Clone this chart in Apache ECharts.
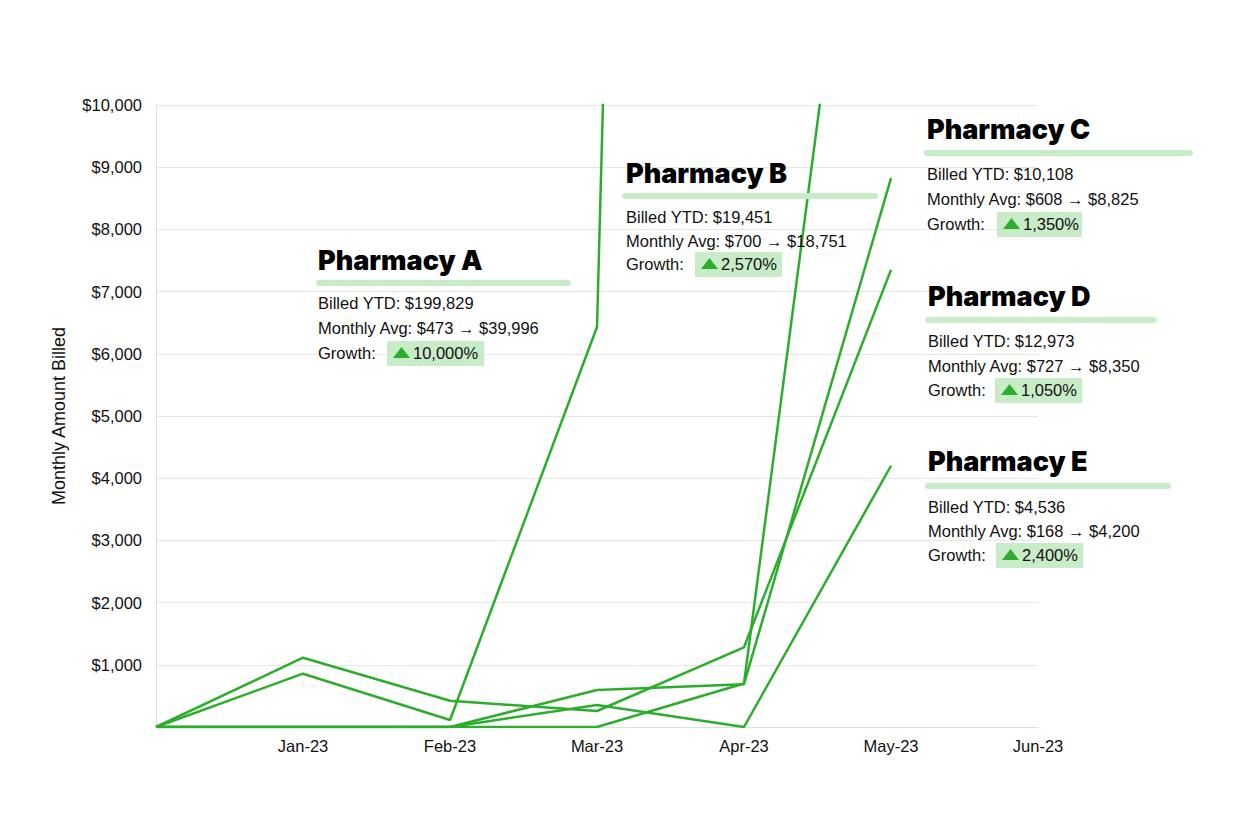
<!DOCTYPE html>
<html>
<head>
<meta charset="utf-8">
<script src="https://cdn.jsdelivr.net/npm/echarts@6/dist/echarts.min.js"></script>
<style>
html,body{margin:0;padding:0;background:#fff;}
#chart{width:1238px;height:824px;}
</style>
</head>
<body>
<div id="chart"></div>
<script>
// ---- data ----
var months = ['Dec-22', 'Jan-23', 'Feb-23', 'Mar-23', 'Apr-23', 'May-23', 'Jun-23'];
var pharmacyA = [0, 857, 112, 6430, 95000, 97430];
var pharmacyB = [0, 0, 0, 0, 700, 18751];
var pharmacyC = [0, 0, 0, 595, 688, 8825];
var pharmacyD = [0, 1114, 423, 257, 1281, 7350];
var pharmacyE = [0, 0, 0, 354, 0, 4200];
var names = ['Pharmacy A', 'Pharmacy B', 'Pharmacy C', 'Pharmacy D', 'Pharmacy E'];
var billedYTD = ['$199,829', '$19,451', '$10,108', '$12,973', '$4,536'];
var avgFrom = ['$473', '$700', '$608', '$727', '$168'];
var avgTo = ['$39,996', '$18,751', '$8,825', '$8,350', '$4,200'];
var growth = ['10,000%', '2,570%', '1,350%', '1,050%', '2,400%'];

// ---- layout of annotation blocks (pixels) ----
var layout = [
  {tx: 318, ty: 264, ul: [316, 571, 283], ly: [303, 328, 353], bx: [387, 484]},
  {tx: 626, ty: 177, ul: [622, 878, 196], ly: [217, 241, 264], bx: [695, 782]},
  {tx: 927, ty: 133, ul: [924, 1193, 153], ly: [174, 199, 224], bx: [997, 1082]},
  {tx: 928, ty: 300, ul: [925, 1157, 320], ly: [341, 366, 390], bx: [995, 1082]},
  {tx: 928, ty: 465, ul: [925, 1171, 486], ly: [507, 531, 555], bx: [996, 1083]}
];

var green = '#2cae2c';
var bodyFont = '"Liberation Sans", Arial, Helvetica, sans-serif';
var graphics = [];
layout.forEach(function (L, i) {
  graphics.push({
    type: 'text', left: L.tx, top: L.ty - 17, z: 10,
    style: {text: names[i], font: '900 27px Inter, "DejaVu Sans", sans-serif', fill: '#000'}
  });
  graphics.push({
    type: 'line', z: 9,
    shape: {x1: L.ul[0] + 3, y1: L.ul[2], x2: L.ul[1] - 3, y2: L.ul[2]},
    style: {stroke: '#c8ebc8', lineWidth: 6, lineCap: 'round'}
  });
  var lines = ['Billed YTD: ' + billedYTD[i], 'Monthly Avg: ' + avgFrom[i] + ' \u2192 ' + avgTo[i], 'Growth:'];
  lines.forEach(function (t, k) {
    graphics.push({
      type: 'text', left: L.tx, top: L.ly[k] - 9, z: 10,
      style: {text: t, font: '16.5px ' + bodyFont, fill: '#111'}
    });
  });
  var by = L.ly[2];
  graphics.push({
    type: 'rect', z: 9,
    shape: {x: L.bx[0], y: by - 12, width: L.bx[1] - L.bx[0], height: 25},
    style: {fill: '#c8ebc8'}
  });
  graphics.push({
    type: 'polygon', z: 10,
    shape: {points: [[L.bx[0] + 6, by + 5], [L.bx[0] + 23, by + 5], [L.bx[0] + 14.5, by - 6]]},
    style: {fill: green}
  });
  graphics.push({
    type: 'text', left: L.bx[0] + 26, top: by - 9, z: 10,
    style: {text: growth[i], font: '16.5px ' + bodyFont, fill: '#111'}
  });
});

function mkSeries(name, data) {
  return {
    name: name, type: 'line', data: data, symbol: 'none', clip: true,
    lineStyle: {color: green, width: 2.5}, itemStyle: {color: green}, z: 5
  };
}

var chart = echarts.init(document.getElementById('chart'), null, {renderer: 'svg'});
chart.setOption({
  backgroundColor: '#fff',
  animation: false,
  grid: {left: 156, right: 200, top: 105, bottom: 97},
  xAxis: {
    type: 'category', data: months, boundaryGap: false,
    axisLine: {lineStyle: {color: '#dddddd'}},
    axisTick: {show: false},
    axisLabel: {
      interval: function (i) { return i > 0; },
      color: '#111', fontSize: 16.5, fontFamily: bodyFont, margin: 10
    },
    splitLine: {show: false}
  },
  yAxis: {
    type: 'value', min: 0, max: 10000, interval: 1000,
    name: 'Monthly Amount Billed', nameLocation: 'middle', nameGap: 88, nameRotate: 90,
    nameTextStyle: {color: '#111', fontSize: 18, fontFamily: bodyFont},
    axisLine: {show: true, lineStyle: {color: '#dddddd'}},
    axisTick: {show: false},
    axisLabel: {
      color: '#111', fontSize: 16.5, fontFamily: bodyFont, margin: 14,
      formatter: function (v) { return v === 0 ? '' : '$' + v.toLocaleString('en-US'); }
    },
    splitLine: {lineStyle: {color: '#e6e6e6'}}
  },
  series: [
    mkSeries('Pharmacy A', pharmacyA),
    mkSeries('Pharmacy B', pharmacyB),
    mkSeries('Pharmacy C', pharmacyC),
    mkSeries('Pharmacy D', pharmacyD),
    mkSeries('Pharmacy E', pharmacyE)
  ],
  graphic: graphics
});
</script>
</body>
</html>
